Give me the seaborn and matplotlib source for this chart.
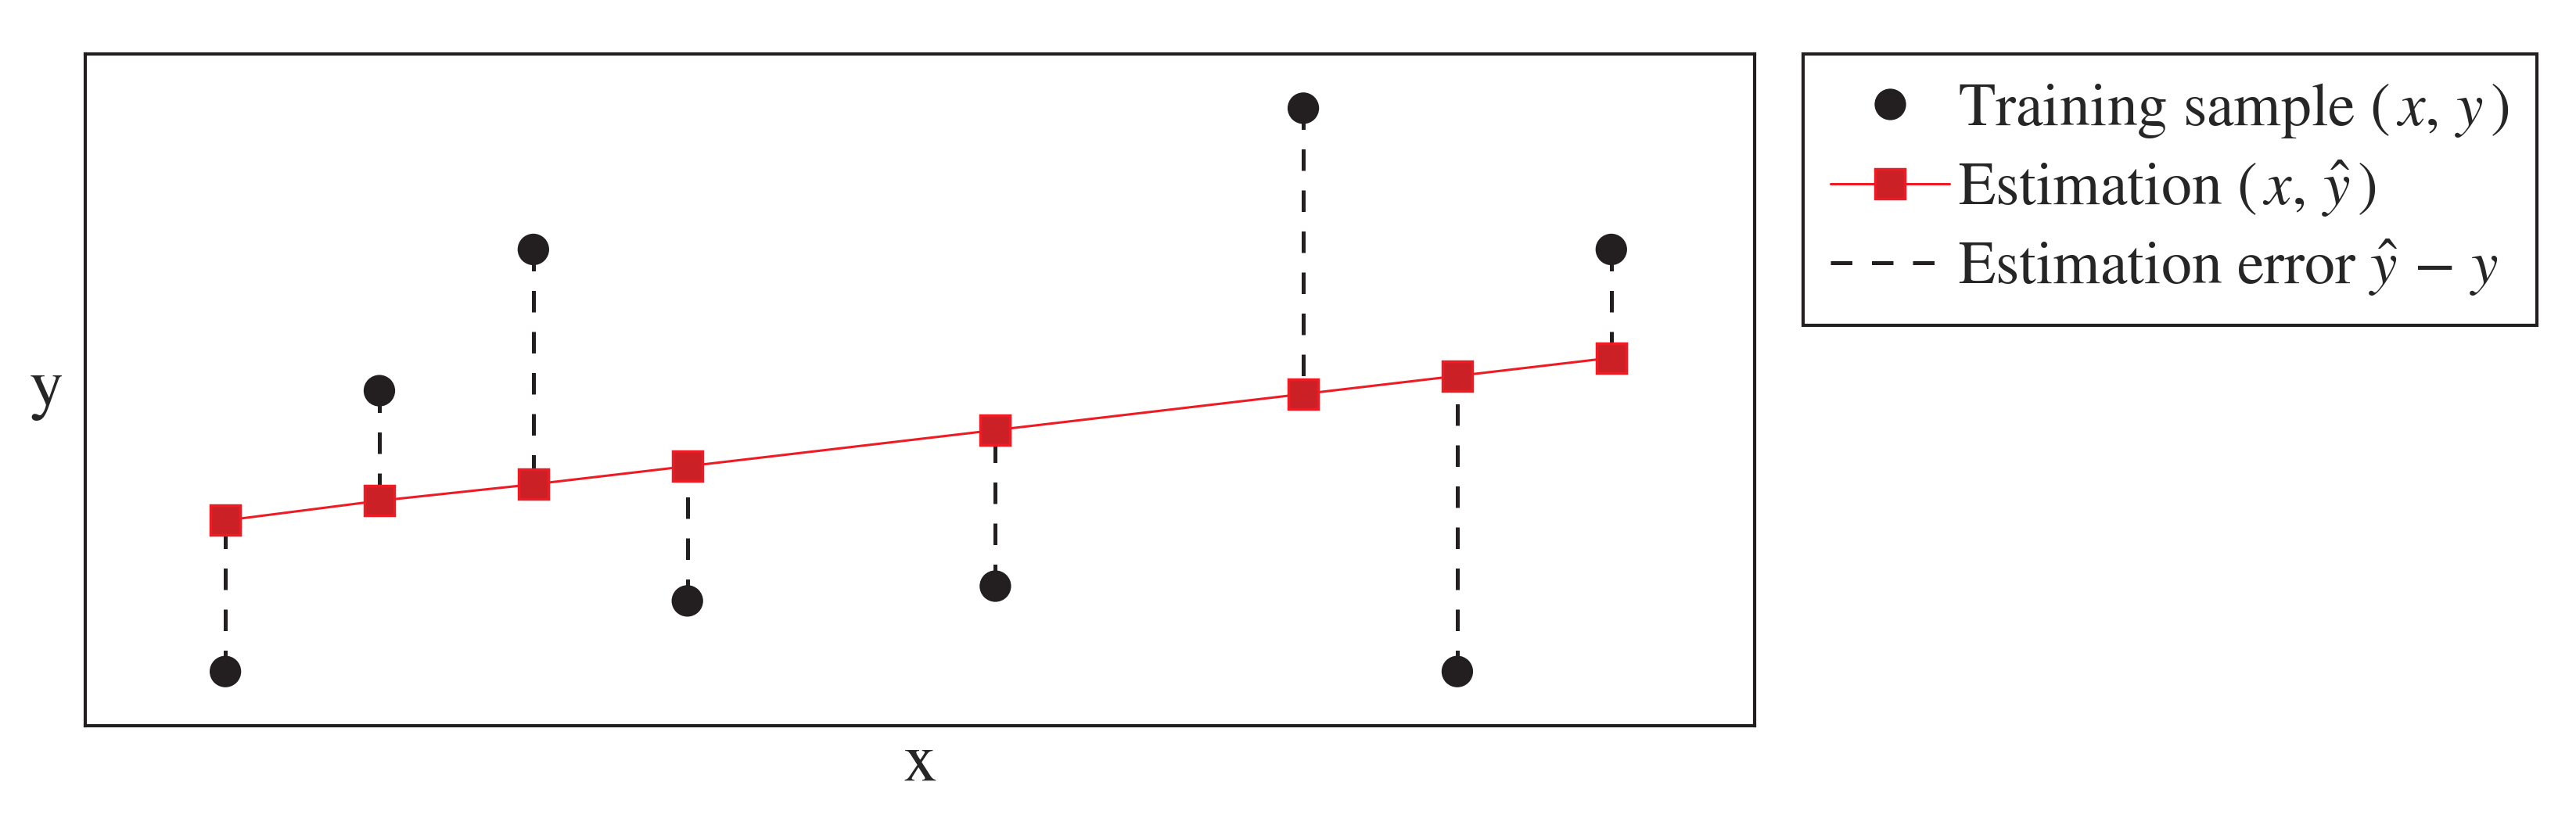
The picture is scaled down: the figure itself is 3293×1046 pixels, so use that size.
import matplotlib
matplotlib.use("Agg")
import matplotlib.pyplot as plt
import seaborn as sns
import pandas as pd
from matplotlib.lines import Line2D

# data (arbitrary units)
x_vals = [1, 2, 3, 4, 6, 8, 9, 10]
y_train = [3.3, 20.4, 29.0, 7.6, 8.5, 37.6, 3.3, 29.0]
y_est = [12.5, 13.7, 14.7, 15.8, 18.0, 20.2, 21.3, 22.4]

labels = [r"Training sample $(\,x,\,y\,)$",
          r"Estimation $(\,x,\,\hat{y}\,)$",
          r"Estimation error $\hat{y}\,-\,y$"]

df = pd.DataFrame({"x": x_vals, "y": y_train, "yhat": y_est})

sns.set_style("white")
plt.rcParams["font.family"] = ["STIXGeneral", "DejaVu Serif"]
plt.rcParams["mathtext.fontset"] = "stix"

black = "#231f20"
red_edge = "#ed1c24"
red_face = "#cc2027"

fig = plt.figure(figsize=(32.93, 10.46), dpi=100)
ax = fig.add_axes([0.0331, 0.1128, 0.648, 0.8212])

# error lines
ax.vlines(df["x"], df["y"], df["yhat"], colors=black, linewidth=3.6,
          linestyles=(0, (5.5, 5)), zorder=1)

# estimation line
sns.lineplot(data=df, x="x", y="yhat", ax=ax, color=red_edge, linewidth=2.2,
             marker="s", markersize=28, markerfacecolor=red_face,
             markeredgecolor=red_edge, markeredgewidth=2.5, zorder=3)

# training samples
sns.scatterplot(data=df, x="x", y="y", ax=ax, color=black, s=29**2,
                edgecolor="none", zorder=4)

ax.set_xlim(0.09, 10.93)
ax.set_ylim(0, 40.9)
ax.set_xticks([])
ax.set_yticks([])
ax.set_xlabel("x", fontsize=62, labelpad=8)
ax.set_ylabel("y", fontsize=62, rotation=0, labelpad=36, va="center")
for s in ax.spines.values():
    s.set_color(black)
    s.set_linewidth(3)

handles = [
    Line2D([], [], linestyle="none", marker="o", markersize=29,
           color=black, markeredgecolor="none"),
    Line2D([], [], color=red_edge, linewidth=2.2, marker="s", markersize=28,
           markerfacecolor=red_face, markeredgecolor=red_edge,
           markeredgewidth=2.5),
    Line2D([], [], color=black, linewidth=3.6, linestyle=(0, (5.5, 5))),
]
leg = fig.legend(handles, labels, loc="upper left",
                 bbox_to_anchor=(0.700, 0.934), fontsize=56,
                 frameon=True, fancybox=False, framealpha=1,
                 handlelength=1.95, handletextpad=0.15, labelspacing=0.3,
                 borderpad=0.45, borderaxespad=0)
leg.get_frame().set_edgecolor(black)
leg.get_frame().set_linewidth(3)

fig.savefig("out.png", dpi=100)
